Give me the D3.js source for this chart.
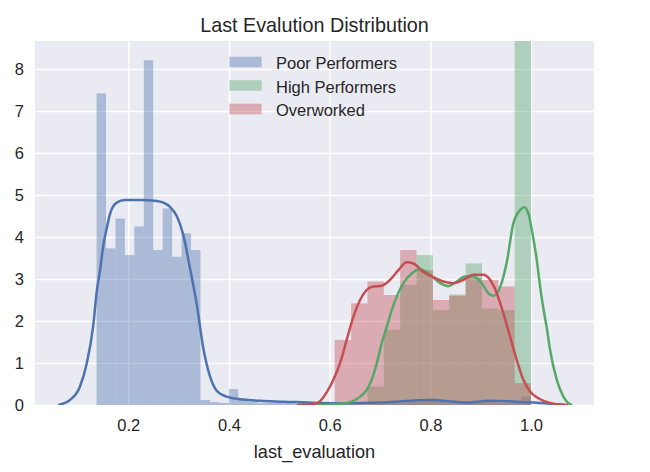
<!DOCTYPE html>
<html>
<head>
<meta charset="utf-8">
<script src="https://cdn.jsdelivr.net/npm/d3@7"></script>
<style>
  body { margin: 0; background: #fff; }
  text { font-family: "Liberation Sans", Arial, sans-serif; fill: #262626; }
</style>
</head>
<body>
<svg id="chart" width="650" height="472"></svg>
<script>
// histogram densities (equal width bins between lo and hi)
const poorRange = [0.137, 1.0];
const poorHist = [7.42, 3.73, 4.44, 3.57, 4.25, 8.21, 3.69, 4.68, 3.53, 4.09, 3.69,
  0.12, 0.07, 0.05, 0.38, 0.13, 0.08, 0.05, 0.05, 0.08, 0.05, 0.03, 0.02, 0.02, 0.03,
  0.02, 0.02, 0.02, 0.02, 0.03, 0.03, 0.05, 0.05, 0.08, 0.1, 0.15, 0.08, 0.05, 0.03,
  0.05, 0.08, 0.1, 0.05, 0.05, 0.08, 0.2];
const highRange = [0.675, 1.0];
const highHist = [0.44, 1.79, 2.86, 3.57, 2.26, 2.63, 3.37, 2.30, 2.26, 9.3];
const overRange = [0.61, 1.0];
const overHist = [1.55, 2.42, 2.94, 2.62, 3.69, 3.21, 2.5, 2.6, 3.02, 2.98, 2.82, 0.52];

// kde curves
const poorKdeX = [0.061, 0.0842, 0.1041, 0.1174, 0.1305, 0.1373, 0.1438, 0.1504, 0.1571, 0.1637,
  0.177, 0.1935, 0.2233, 0.2565, 0.2696, 0.2829, 0.2962, 0.3093, 0.3226, 0.3359, 0.349,
  0.3623, 0.3756, 0.3955, 0.4285, 0.4617, 0.508, 0.5743, 0.6404, 0.706, 0.7994, 0.8723,
  0.9186, 0.9716, 1.004, 1.0477, 1.0676];
const poorKdeY = [0, 0.12, 0.44, 0.99, 1.9, 2.7, 3.2, 3.8, 4.2, 4.55,
  4.82, 4.88, 4.88, 4.86, 4.82, 4.72, 4.5, 4.05, 3.25, 2.4, 1.35,
  0.68, 0.34, 0.2, 0.13, 0.1, 0.08, 0.05, 0.04, 0.06, 0.12, 0.06,
  0.1, 0.08, 0.06, 0.02, 0];
const highKdeX = [0.5742, 0.6205, 0.647, 0.6603, 0.6736, 0.6835, 0.6935, 0.7034, 0.7134, 0.7233,
  0.7332, 0.7464, 0.763, 0.7795, 0.7994, 0.8192, 0.8357, 0.8524, 0.8689, 0.8854, 0.902,
  0.9152, 0.9252, 0.9384, 0.9517, 0.9649, 0.9782, 0.9862, 0.9947, 1.0015, 1.0114, 1.018,
  1.0245, 1.0318, 1.0378, 1.0511, 1.0642, 1.0742, 1.0815];
const highKdeY = [0, 0.03, 0.1, 0.2, 0.36, 0.6, 0.99, 1.47, 1.86, 2.26,
  2.58, 2.9, 3.13, 3.23, 3.1, 2.9, 2.83, 2.94, 3.06, 3.06, 2.9,
  2.66, 2.6, 2.8, 3.4, 4.33, 4.64, 4.71, 4.56, 4.17, 3.45, 2.82,
  2.3, 1.79, 1.31, 0.6, 0.2, 0.04, 0];
const overKdeX = [0.5345, 0.5742, 0.5941, 0.6073, 0.6205, 0.6338, 0.647, 0.6603, 0.6736, 0.6867,
  0.7034, 0.7199, 0.7364, 0.753, 0.7662, 0.786, 0.8027, 0.8258, 0.8457, 0.8655, 0.8854,
  0.9053, 0.9186, 0.9319, 0.945, 0.9583, 0.9716, 0.9847, 0.998, 1.0145, 1.0377, 1.0735];
const overKdeY = [0, 0.04, 0.3, 0.6, 0.99, 1.55, 2.1, 2.5, 2.74, 2.82,
  2.84, 2.98, 3.21, 3.4, 3.37, 3.17, 3.06, 2.94, 2.9, 2.98, 3.1,
  3.1, 2.98, 2.66, 2.18, 1.63, 1.07, 0.6, 0.32, 0.16, 0.05, 0];

const seriesNames = ['Poor Performers', 'High Performers', 'Overworked'];
const xTicks = [0.2, 0.4, 0.6, 0.8, 1.0];
const yTicks = [0, 1, 2, 3, 4, 5, 6, 7, 8];

const colors = ['#4C72B0', '#55A868', '#C44E52'];
const margin = { top: 41, right: 56, bottom: 67, left: 35 };
const width = 650 - margin.left - margin.right;
const height = 472 - margin.top - margin.bottom;

const svg = d3.select('#chart');
const g = svg.append('g').attr('transform', `translate(${margin.left},${margin.top})`);

const x = d3.scaleLinear().domain([0.0147, 1.125]).range([0, width]);
const y = d3.scaleLinear().domain([0, 8.667]).range([height, 0]);

g.append('rect').attr('width', width).attr('height', height).attr('fill', '#EAEAF2');

svg.append('defs').append('clipPath').attr('id', 'plot')
  .append('rect').attr('width', width).attr('height', height);

// grid + tick labels
const yAxis = g.append('g')
  .call(d3.axisLeft(y).tickValues(yTicks).tickFormat(d3.format('d'))
    .tickSizeInner(-width).tickSizeOuter(0).tickPadding(11));
const xAxis = g.append('g')
  .attr('transform', `translate(0,${height})`)
  .call(d3.axisBottom(x).tickValues(xTicks).tickFormat(d3.format('.1f'))
    .tickSizeInner(-height).tickSizeOuter(0).tickPadding(14));
[xAxis, yAxis].forEach(a => {
  a.select('.domain').remove();
  a.selectAll('line').attr('stroke', '#fff').attr('stroke-width', 1.6);
  a.selectAll('text').attr('font-size', 16.5).attr('fill', '#262626');
});

const plot = g.append('g').attr('clip-path', 'url(#plot)');
// bars below, lines above (like matplotlib zorder)
const barLayer = plot.append('g');
const lineLayer = plot.append('g');

const line = d3.line()
  .curve(d3.curveMonotoneX)
  .x(d => x(d[0]))
  .y(d => y(d[1]));

const series = [
  { range: poorRange, hist: poorHist, kx: poorKdeX, ky: poorKdeY },
  { range: highRange, hist: highHist, kx: highKdeX, ky: highKdeY },
  { range: overRange, hist: overHist, kx: overKdeX, ky: overKdeY },
];

series.forEach((s, i) => {
  const step = (s.range[1] - s.range[0]) / s.hist.length;
  const bins = s.hist.map((v, j) => ({ x0: s.range[0] + j * step, x1: s.range[0] + (j + 1) * step, v }));
  barLayer.append('g')
    .selectAll('rect')
    .data(bins)
    .join('rect')
    .attr('x', d => x(d.x0))
    .attr('width', d => x(d.x1) - x(d.x0))
    .attr('y', d => y(d.v))
    .attr('height', d => y(0) - y(d.v))
    .attr('fill', colors[i])
    .attr('fill-opacity', 0.4);
  lineLayer.append('path')
    .datum(s.kx.map((v, j) => [v, s.ky[j]]))
    .attr('fill', 'none')
    .attr('stroke', colors[i])
    .attr('stroke-width', 2.5)
    .attr('stroke-linejoin', 'round')
    .attr('d', line);
});

// legend
const legend = svg.append('g');
seriesNames.forEach((name, i) => {
  legend.append('rect')
    .attr('x', 229.3).attr('y', 56.7 + i * 23.5)
    .attr('width', 32.4).attr('height', 10.6)
    .attr('fill', colors[i]).attr('fill-opacity', 0.4);
  legend.append('text')
    .attr('x', 276).attr('y', 69.3 + i * 23.5)
    .attr('font-size', 16.5)
    .text(name);
});

svg.append('text')
  .attr('x', margin.left + width / 2).attr('y', 32)
  .attr('text-anchor', 'middle').attr('font-size', 19.8)
  .text('Last Evalution Distribution');

svg.append('text')
  .attr('x', margin.left + width / 2).attr('y', 458)
  .attr('text-anchor', 'middle').attr('font-size', 18.2)
  .text('last_evaluation');
</script>
</body>
</html>
